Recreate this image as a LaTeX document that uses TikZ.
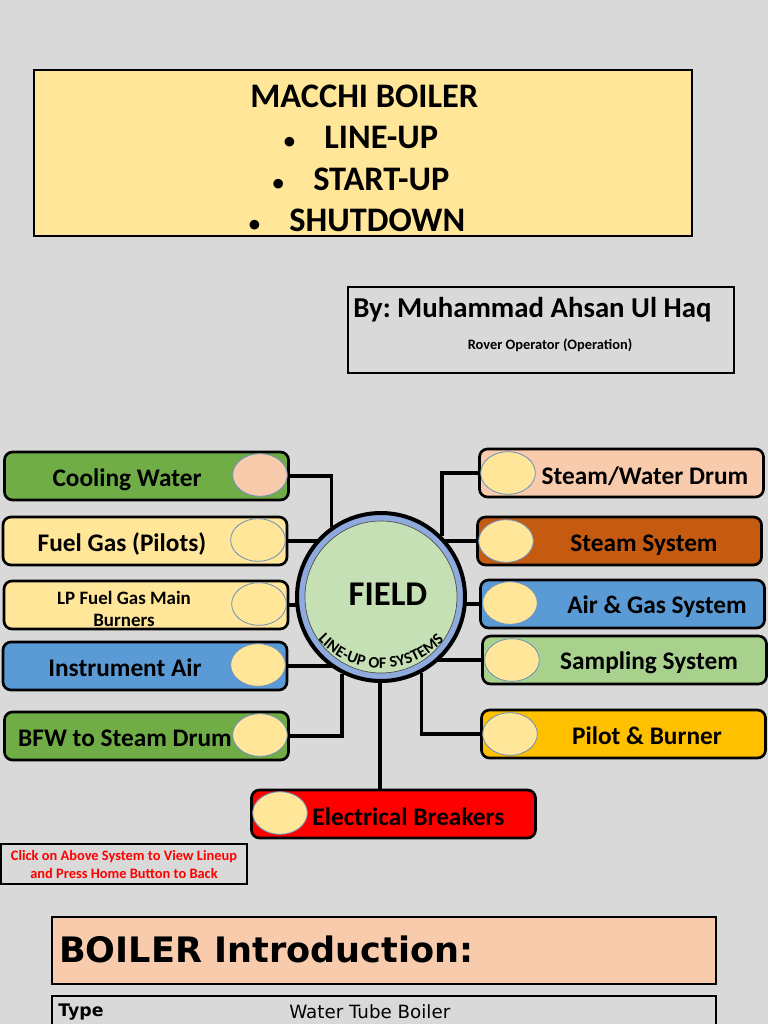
\documentclass[tikz,border=0pt]{standalone}
\usepackage{fontspec}
\setmainfont{Carlito}
\newfontfamily\dejavu{DejaVu Sans}
\usetikzlibrary{shapes.geometric,decorations.text}
\pgfdeclarelayer{bglayer}\pgfdeclarelayer{connlayer}
\pgfsetlayers{bglayer,connlayer,main}
\definecolor{pagebg}{HTML}{D9D9D9}
\definecolor{paleyellow}{HTML}{FFE699}
\definecolor{peach}{HTML}{F8CBAD}
\definecolor{leaf}{HTML}{70AD47}
\definecolor{rust}{HTML}{C55A11}
\definecolor{skyb}{HTML}{5B9BD5}
\definecolor{sage}{HTML}{A9D18E}
\definecolor{amber}{HTML}{FFC000}
\definecolor{ringblue}{HTML}{8FAADC}
\definecolor{fieldgreen}{HTML}{C5E0B4}
\definecolor{ellline}{HTML}{6C8EBF}
\newcommand{\tbul}{{\fontsize{17}{17}\selectfont •}\hspace{22pt}}
\tikzset{
 x=0.75pt,y=-0.75pt,
 sysbox/.style={draw=black,line width=2pt,rounded corners=6pt,minimum height=36pt,inner sep=0pt},
 plainbox/.style={draw=black,line width=1.7pt,inner sep=0pt},
 oval/.style={ellipse,draw=ellline,line width=0.6pt,fill=paleyellow,minimum width=41pt,minimum height=32pt,inner sep=0pt},
 conn/.style={draw=black,line width=2.6pt},
 txt/.style={inner sep=0pt,font=\fontsize{19}{21}\selectfont\bfseries,text=black},
}
\begin{document}
\frenchspacing
\begin{tikzpicture}
\begin{pgfonlayer}{bglayer}
\fill[pagebg] (0,0) rectangle (768,1024);
\end{pgfonlayer}
\useasboundingbox (0,0) rectangle (768,1024);
% header
\node[plainbox,fill=paleyellow,minimum width=494pt,minimum height=124pt] (title) at (363,153) {};
\node[txt,align=center,font=\fontsize{25.8}{31}\selectfont\bfseries] (titletxt) at (361,158.5)
 {\hspace{5pt}MACCHI BOILER\\ \tbul LINE-UP\\ \tbul START-UP\\ \tbul SHUTDOWN\hspace*{6pt}};
\node[plainbox,minimum width=290pt,minimum height=65pt] (by) at (541,330) {};
\node[txt,anchor=west,font=\fontsize{21.6}{24}\selectfont\bfseries] (bytext) at (353,310) {By: Muhammad Ahsan Ul Haq};
\node[txt,font=\fontsize{10.8}{12}\selectfont\bfseries] (role) at (550,345) {Rover Operator (Operation)};
% centre
\node[circle,draw=black,line width=3pt,fill=ringblue,minimum size=126pt,inner sep=0pt] (field) at (381,597) {};
\node[circle,draw=black!70,line width=0.5pt,fill=fieldgreen,minimum size=114pt,inner sep=0pt] (fieldin) at (381,597) {};
\node[txt,font=\fontsize{26}{28}\selectfont\bfseries] (fieldtxt) at (388,594) {FIELD};
\path[postaction={decorate,decoration={text along path,text align={fit to path},
 text={|\fontsize{12}{14}\selectfont\bfseries|LINE-UP OF SYSTEMS}}}]
 (317.8,639.9) arc[start angle=222,end angle=318,x radius=85,y radius=-85];
% left boxes
\node[sysbox,fill=leaf,minimum width=213pt] (cw) at (146.5,476) {};
\node[sysbox,fill=paleyellow,minimum width=213pt] (fg) at (145,541) {};
\node[sysbox,fill=paleyellow,minimum width=213pt] (lp) at (146,605) {};
\node[sysbox,fill=skyb,minimum width=213pt] (ia) at (145,666) {};
\node[sysbox,fill=leaf,minimum width=213pt] (bfw) at (146.5,736) {};
% right boxes
\node[sysbox,fill=peach,minimum width=213pt] (sw) at (621.5,473) {};
\node[sysbox,fill=rust,minimum width=213pt] (ss) at (619.5,541) {};
\node[sysbox,fill=skyb,minimum width=213pt] (ag) at (622.5,604) {};
\node[sysbox,fill=sage,minimum width=213pt] (sa) at (624.5,660) {};
\node[sysbox,fill=amber,minimum width=213pt] (pb) at (623.5,734) {};
\node[sysbox,fill=red,minimum width=213pt] (eb) at (393.5,814) {};
% ovals
\node[oval,fill=peach] (o1) at (260,475) {};
\node[oval] (o2) at (258,540) {};
\node[oval] (o3) at (259,604) {};
\node[oval] (o4) at (258,665) {};
\node[oval] (o5) at (260,735) {};
\node[oval] (o6) at (508,473) {};
\node[oval] (o7) at (506,541) {};
\node[oval] (o8) at (510,603) {};
\node[oval] (o9) at (512,660) {};
\node[oval] (o10) at (510,734) {};
\node[oval] (o11) at (280,813) {};
% labels
\node[txt] (t1) at (127,480) {Cooling Water};
\node[txt] (t2) at (122,544) {Fuel Gas (Pilots)};
\node[txt,font=\fontsize{14.2}{16.5}\selectfont\bfseries,align=center] (t3) at (124,609) {LP Fuel Gas Main\\Burners};
\node[txt] (t4) at (125,668) {Instrument Air};
\node[txt] (t5) at (125,738) {BFW to Steam Drum};
\node[txt] (t6) at (645,476) {Steam/Water Drum};
\node[txt] (t7) at (644,545) {Steam System};
\node[txt] (t8) at (657,607) {Air \& Gas System};
\node[txt] (t9) at (649,663) {Sampling System};
\node[txt] (t10) at (647,736) {Pilot \& Burner};
\node[txt] (t11) at (408.5,817) {Electrical Breakers};
% connectors
\coordinate (e1) at (field.125);
\coordinate (e2) at (field.45);
\coordinate (e3) at (field.243);
\coordinate (e4) at (field.298);
\begin{pgfonlayer}{connlayer}
\draw[conn] (cw.east) -| (e1);
\draw[conn] (fg.east) -- (fg.east -| field);
\draw[conn] (lp.east) -- (lp.east -| field);
\draw[conn] (ia.east) -- (ia.east -| field);
\draw[conn] (bfw.east) -| (e3);
\draw[conn] (sw.west) -| (e2);
\draw[conn] (ss.west) -- (ss.west -| field);
\draw[conn] (ag.west) -- (ag.west -| field);
\draw[conn] (sa.west) -- (sa.west -| field);
\draw[conn] (pb.west) -| (e4);
\draw[conn] ([xshift=-0.75pt]eb.north -| field) -- ([xshift=-0.75pt]field.center);
\end{pgfonlayer}
% note
\node[plainbox,minimum width=185pt,minimum height=30pt,align=center,text=red,font=\fontsize{10.8}{13.5}\selectfont\bfseries] (note) at (124,864) {Click on Above System to View Lineup\\and Press Home Button to Back};
% intro
\node[plainbox,fill=peach,minimum width=498pt,minimum height=50pt] (intro) at (384,950.5) {};
\node[txt,anchor=west,font=\dejavu\fontsize{26.3}{30}\selectfont\bfseries] (introtxt) at (59,949) {BOILER Introduction:};
\node[plainbox,minimum width=498pt,minimum height=50pt] (tbl) at (384,1029) {};
\node[txt,anchor=west,font=\dejavu\fontsize{13}{16}\selectfont\bfseries] (ty) at (58,1012) {Type};
\node[txt,anchor=west,font=\dejavu\fontsize{13.7}{16}\selectfont\mdseries] (tyv) at (289,1012) {Water Tube Boiler};
\end{tikzpicture}
\end{document}
